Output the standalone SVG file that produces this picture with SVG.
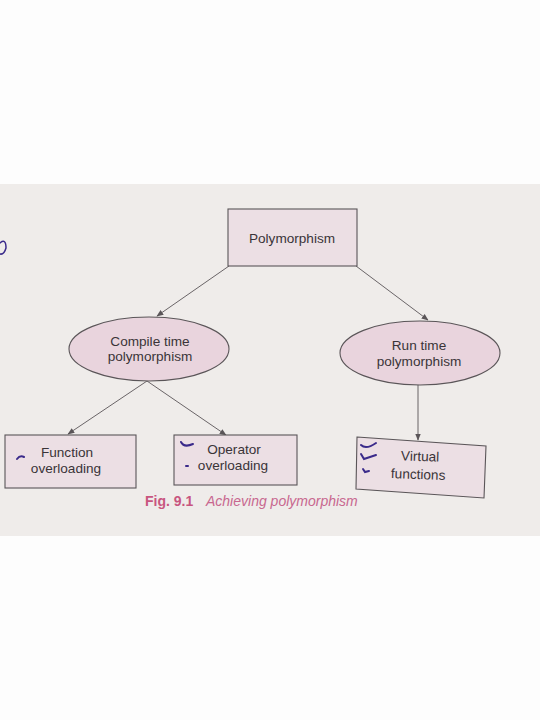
<svg xmlns="http://www.w3.org/2000/svg" width="540" height="720" viewBox="0 0 540 720">
<defs>
<style>
.box{fill:#ecdfe4;stroke:#5a5558;stroke-width:1.1}
.ell{fill:#e9d4dd;stroke:#5a5558;stroke-width:1.1}
.t{font-family:"Liberation Sans",Arial,sans-serif;font-size:13.6px;fill:#3a3438;text-anchor:middle}
.c{stroke:#5a5558;stroke-width:0.9;fill:none;marker-end:url(#ah)}
.pen{stroke:#3a2a8a;stroke-width:2;fill:none;stroke-linecap:round}
.cap{font-family:"Liberation Sans",Arial,sans-serif;font-size:14px}
</style>
<marker id="ah" viewBox="0 0 10 10" refX="9" refY="5" markerWidth="7" markerHeight="7" orient="auto" markerUnits="userSpaceOnUse">
<path d="M0,1 L10,5 L0,9 z" fill="#5a5558"/>
</marker>
</defs>
<rect x="0" y="0" width="540" height="720" fill="#fdfdfd"/>
<rect x="0" y="184" width="540" height="352" fill="#efecea"/>
<g id="connectors">
<line class="c" x1="229" y1="266" x2="157" y2="316"/>
<line class="c" x1="356" y1="266" x2="428" y2="320"/>
<line class="c" x1="147" y1="381" x2="68" y2="434"/>
<line class="c" x1="147" y1="381" x2="226" y2="435"/>
<line class="c" x1="418" y1="385" x2="418" y2="440"/>
</g>
<g id="polymorphism">
<rect class="box" x="228" y="209" width="129" height="57"/>
<text class="t" x="292" y="243">Polymorphism</text>
</g>
<g id="compile">
<ellipse class="ell" cx="149" cy="349" rx="80" ry="32"/>
<text class="t" x="150" y="346">Compile time</text>
<text class="t" x="150" y="361">polymorphism</text>
</g>
<g id="runtime">
<ellipse class="ell" cx="420" cy="353" rx="80" ry="32"/>
<text class="t" x="419" y="350">Run time</text>
<text class="t" x="419" y="366">polymorphism</text>
</g>
<g id="function">
<rect class="box" x="5" y="435" width="131" height="53"/>
<text class="t" x="67" y="457">Function</text>
<text class="t" x="66" y="473">overloading</text>
</g>
<g id="operator">
<rect class="box" x="174" y="435" width="123" height="50"/>
<text class="t" x="234" y="454">Operator</text>
<text class="t" x="233" y="470">overloading</text>
</g>
<g id="virtual">
<polygon class="box" points="357,437 486,446 484,498 356,489"/>
<text class="t" x="420" y="461" transform="rotate(2 420 461)">Virtual</text>
<text class="t" x="418" y="479" transform="rotate(2 418 479)">functions</text>
</g>
<g id="caption">
<text class="cap" x="145" y="506" style="font-weight:bold;fill:#c8557f">Fig. 9.1</text>
<text class="cap" x="206" y="506" style="font-style:italic;fill:#c8678f">Achieving polymorphism</text>
</g>
<g id="annotations">
<path class="pen" d="M17,459 Q20,455 24,457"/>
<path class="pen" d="M181,442 Q184,448 193,444"/>
<path class="pen" d="M186,466 L188,466"/>
<path class="pen" d="M361,445 Q366,450 376,443"/>
<path class="pen" d="M361,454 L364,459 L376,455"/>
<path class="pen" d="M363,469 L365,472 L369,471"/>
<path class="pen" d="M0,243 Q6,238 6,248 Q4,255 0,254" style="stroke-width:1.5"/>
</g>
</svg>
